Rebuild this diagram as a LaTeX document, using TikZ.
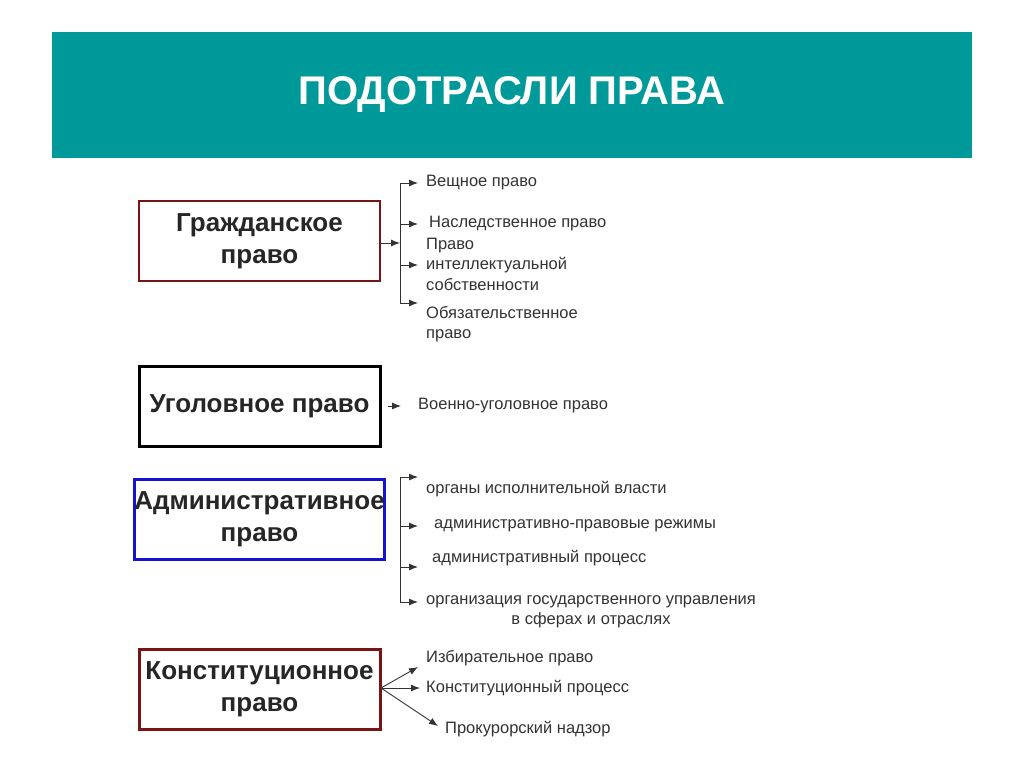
\documentclass[tikz,border=0pt]{standalone}
\usepackage{fontspec}
\setmainfont{Liberation Sans}
\usetikzlibrary{arrows.meta}
\begin{document}
\begin{tikzpicture}[x=1pt,y=-1pt,
  bx/.style={draw,line width=3pt,minimum width=241pt,minimum height=80pt,inner sep=0pt,align=center,font=\bfseries\fontsize{26}{32}\selectfont,text=black!85},
  lb/.style={anchor=west,inner sep=0pt,align=left,font=\fontsize{16.5}{20.5}\selectfont,text=black!80},
  ar/.style={-{Latex[length=9pt,width=7pt]},line width=0.9pt,black!80},
  ln/.style={line width=0.9pt,black!80}]
\useasboundingbox (0,0) rectangle (1024,768);
\fill[white] (0,0) rectangle (1024,768);
\node[fill={rgb,255:red,0;green,153;blue,153},minimum width=920pt,minimum height=126pt,inner sep=0pt,text=white,font=\bfseries\fontsize{40}{46}\selectfont] (hdr) at (512,95) {ПОДОТРАСЛИ ПРАВА};
\definecolor{dred}{RGB}{120,20,20}
\node[bx,draw=dred,line width=2pt] (b1) at (259.5,241) {Гражданское\\право};
\node[bx] (b2) at (259.5,406) {Уголовное право};
\node[bx,draw={rgb,255:red,20;green,20;blue,200}] (b3) at (259.5,519.5) {Административное\\право};
\node[bx,draw=dred] (b4) at (259.5,689.5) {Конституционное\\право};
% group 1
\coordinate (v1) at (400,243);
\draw[ar] (b1.east|-v1) -- (v1);
\draw[ln] (400,183) -- (400,303);
\node[lb] (t11) at (426,183) {Вещное право};
\node[lb] (t12) at (429,224) {Наследственное право};
\node[lb,align=left] (t13) at (426,264) {Право\\интеллектуальной\\собственности};
\node[lb] (t14) at (426,324) {Обязательственное\\право};
\coordinate (c11) at (400,183);\coordinate (c12) at (400,224);\coordinate (c13) at (400,265);\coordinate (c14) at (400,303);
\draw[ar] (c11) -- (418,183);
\draw[ar] (c12) -- (418,224);
\draw[ar] (c13) -- (418,265);
\draw[ar] (c14) -- (418,303);
% group 2
\node[lb] (t21) at (418,406) {Военно-уголовное право};
\coordinate (c21) at (388,406);
\draw[ar] (c21) -- (401,406);
% group 3
\draw[ln] (400,477) -- (400,602);
\coordinate (c31) at (400,477);\coordinate (c32) at (400,526);\coordinate (c33) at (400,567);\coordinate (c34) at (400,602);
\draw[ar] (c31) -- (418,477);
\draw[ar] (c32) -- (418,526);
\draw[ar] (c33) -- (418,567);
\draw[ar] (c34) -- (418,602);
\node[lb] (t31) at (426,489) {органы исполнительной власти};
\node[lb] (t32) at (434,526) {административно-правовые режимы};
\node[lb] (t33) at (432,558) {административный процесс};
\node[lb,align=center,anchor=north west] (t34) at (426,595) {организация государственного управления\\в сферах и отраслях};
% group 4
\coordinate (c4) at (381,688);
\node[lb] (t41) at (426,658) {Избирательное право};
\node[lb] (t42) at (426,688) {Конституционный процесс};
\node[lb] (t43) at (445,729) {Прокурорский надзор};
\draw[ar] (c4) -- (418,667);
\draw[ar] (c4) -- (420,688);
\draw[ar] (c4) -- (438,726);
\end{tikzpicture}
\end{document}
